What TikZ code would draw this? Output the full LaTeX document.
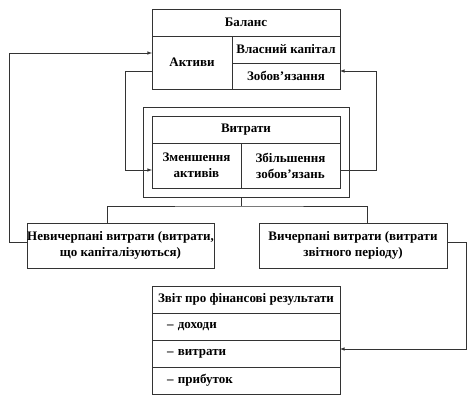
\documentclass[tikz,border=0pt]{standalone}
\usepackage{fontspec}
\setmainfont{Liberation Serif}
\usetikzlibrary{positioning,arrows}
\tikzset{
  cell/.style={draw=black!80, line width=0.6pt, anchor=north west, inner sep=0pt,
    outer sep=0pt, align=center, font=\bfseries\fontsize{13}{16}\selectfont},
  link/.style={draw=black!80, line width=0.6pt},
  >=latex
}
\begin{document}
\begin{tikzpicture}[x=1pt,y=-1pt]
\useasboundingbox (0,0) rectangle (474,420);

% Balance
\node[cell, minimum width=188pt, minimum height=27pt] (balans) at (152,9) {Баланс};
\node[cell, minimum width=80pt, minimum height=53pt] (aktyvy) at (152,36) {Активи};
\node[cell, minimum width=108pt, minimum height=27pt] (kapital) at (232,36) {Власний капітал};
\node[cell, minimum width=108pt, minimum height=26pt] (zobov) at (232,63) {Зобов’язання};

% Expenses
\node[cell, minimum width=206pt, minimum height=90pt] (vytraty) at (143,107) {};
\node[cell, minimum width=188pt, minimum height=27pt] (vhead) at (152,116) {Витрати};
\node[cell, minimum width=89pt, minimum height=45pt] (zmensh) at (152,143) {Зменшення\\активів};
\node[cell, minimum width=99pt, minimum height=45pt] (zbilsh) at (241,143) {Збільшення\\зобов’язань};

% two kinds of expenses
\node[cell, minimum width=187pt, minimum height=45pt] (nevych) at (27,223) {Невичерпані витрати (витрати,\\що капіталізуються)};
\node[cell, minimum width=188pt, minimum height=45pt] (vych) at (259,223) {Вичерпані витрати (витрати\\звітного періоду)};

% income statement
\node[cell, minimum width=188pt, minimum height=27pt] (zvit) at (152,286) {Звіт про фінансові результати};
\foreach \i/\txt in {0/доходи, 1/витрати, 2/прибуток} {
  \node[cell, minimum width=188pt, minimum height=27pt, text width=188pt, align=left]
    (row\i) at (152,313+27*\i) {\hspace*{15pt}– \txt};
}

% connectors
\draw[link,->] ([yshift=3.5pt]nevych.west) -- ++(-18,0) |- ([yshift=9.5pt]aktyvy.west);
\draw[link,->] ([yshift=-8.5pt]aktyvy.west) -- ++(-27,0) |- ([yshift=-4.5pt]zmensh.west);
\draw[link,->] ([yshift=-4.5pt]zbilsh.east) -- ++(36,0) |- ([yshift=5pt]zobov.east);
\draw[link] (vytraty.south -| zbilsh.south west) -- ++(0,9) coordinate (split);
\draw[link] ([xshift=-13.5pt]nevych.north) |- (split) -| ([xshift=14pt]vych.north);
\draw[link,->] ([yshift=3.5pt]vych.east) -- ++(19,0) |- ([yshift=4.5pt]row1.east);
\end{tikzpicture}
\end{document}
